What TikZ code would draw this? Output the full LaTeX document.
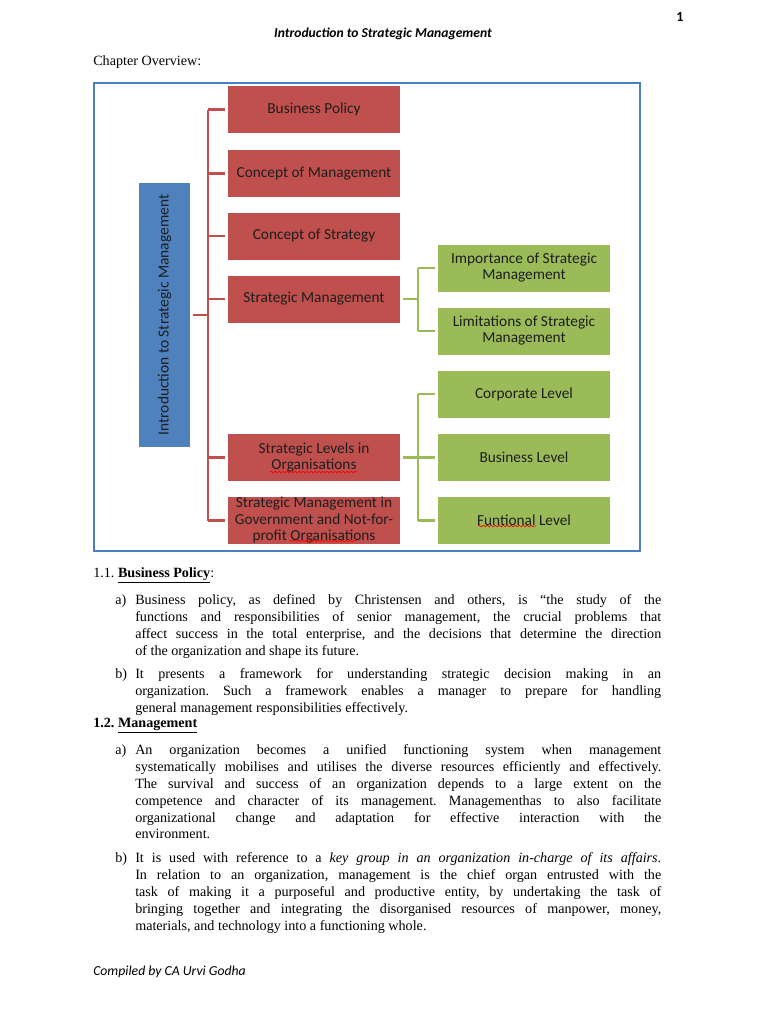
\documentclass[tikz,border=0pt]{standalone}
\usepackage{fontspec}
\setmainfont{Liberation Serif}
\newfontfamily\calfont{Carlito}
\usetikzlibrary{decorations.pathmorphing}
\definecolor{redbox}{HTML}{C0504D}
\definecolor{greenbox}{HTML}{9BBB59}
\definecolor{bluebox}{HTML}{4F81BD}
\definecolor{framecol}{HTML}{4A7EC8}
\definecolor{boxtext}{HTML}{1E1E1E}
\frenchspacing
\newcommand\jline[2]{\node[bodytext] at (135,#1) {\makebox[394.5pt][s]{#2}};}
\newcommand\pline[2]{\node[bodytext] at (135,#1) {#2};}
\begin{document}
\begin{tikzpicture}[x=0.75pt,y=-0.75pt,
  rbox/.style={fill=redbox,inner sep=0pt,minimum width=129pt,minimum height=35.25pt,align=center,
    font=\calfont\fontsize{11.5}{12}\selectfont,text=boxtext},
  gbox/.style={rbox,fill=greenbox},
  rln/.style={draw=redbox,line width=1.6pt},
  gln/.style={draw=greenbox,line width=1.6pt},
  bodytext/.style={inner sep=0pt,anchor=base west,font=\frenchspacing\fontsize{10.6}{12.75}\selectfont},
  spell/.style={draw=red,line width=0.5pt,decorate,decoration={snake,amplitude=0.6pt,segment length=3pt}}
]
\useasboundingbox (0,0) rectangle (768,1024);
\fill[white] (0,0) rectangle (768,1024);

% header
\node[inner sep=0pt,font=\calfont\bfseries\fontsize{10.5}{12}\selectfont] (pg) at (680,17) {1};
\node[inner sep=0pt,font=\calfont\bfseries\itshape\fontsize{10.2}{12}\selectfont] (title) at (383,34) {Introduction to Strategic Management};
\node[bodytext] (co) at (93,66) {Chapter Overview:};

% frame
\draw[framecol,line width=0.8pt] (94,83) rectangle (640,551);

% blue box
\node[fill=bluebox,inner sep=0pt,minimum width=198pt,minimum height=38.25pt,rotate=90,
  font=\calfont\fontsize{11.6}{12}\selectfont,text=boxtext] (root) at (164.5,315) {Introduction to Strategic Management};

% red boxes
\node[rbox] (b1) at (314,109.5) {Business Policy};
\node[rbox] (b2) at (314,173.5) {Concept of Management};
\node[rbox] (b3) at (314,236) {Concept of Strategy};
\node[rbox] (b4) at (314,299) {Strategic Management};
\node[rbox] (b5) at (314,457.5) {Strategic Levels in\\Organisations};
\node[rbox,font=\calfont\fontsize{11.5}{12.4}\selectfont] (b6) at (314,520.5) {Strategic Management in\\Government and Not-for-\\profit Organisations};

% green boxes
\node[gbox] (g1) at (524,268) {Importance of Strategic\\Management};
\node[gbox] (g2) at (524,331) {Limitations of Strategic\\Management};
\node[gbox] (g3) at (524,394) {Corporate Level};
\node[gbox] (g4) at (524,457.5) {Business Level};
\node[gbox] (g5) at (524,520.5) {Funtional Level};

% red connectors
\coordinate (rt) at (208,0);
\draw[rln] ([xshift=2.25pt]root.south) -- (root.south -| rt);
\draw[rln] (b1.west -| rt) -- (b6.west -| rt);
\foreach \b in {b1,b2,b3,b4,b5,b6}{
  \draw[rln] ([xshift=-2.25pt]\b.west) -- (\b.west -| rt);
}

% green connectors
\coordinate (gt) at (418,0);
\draw[gln] ([xshift=2.25pt]b4.east) -- (b4.east -| gt);
\draw[gln] (g1.west -| gt) -- (g2.west -| gt);
\draw[gln] ([xshift=2.25pt]b5.east) -- (b5.east -| gt);
\draw[gln] (g3.west -| gt) -- (g5.west -| gt);
\foreach \g in {g1,g2,g3,g4,g5}{
  \draw[gln] ([xshift=-2.25pt]\g.west) -- (\g.west -| gt);
}

% spell-check marks
\draw[spell] (270,472) -- (357,472);
\draw[spell] (289,541) -- (357,541);
\draw[spell] (478,526) -- (536,526);

% section 1.1
\node[bodytext] (h1) at (93,577) {1.1.\ \textbf{\underline{Business Policy}}:};
\node[bodytext] (la1) at (115,604) {a)};
\jline{604}{Business policy, as defined by Christensen and others, is “the study of the}
\jline{621}{functions and responsibilities of senior management, the crucial problems that}
\jline{638}{affect success in the total enterprise, and the decisions that determine the direction}
\pline{655}{of the organization and shape its future.}
\node[bodytext] (lb1) at (115,678) {b)};
\jline{678}{It presents a framework for understanding strategic decision making in an}
\jline{695}{organization. Such a framework enables a manager to prepare for handling}
\pline{712}{general management responsibilities effectively.}

% section 1.2
\node[bodytext] (h2) at (93,727) {\textbf{1.2.\ \underline{Management}}};
\node[bodytext] (la2) at (115,754) {a)};
\jline{754}{An organization becomes a unified functioning system when management}
\jline{771}{systematically mobilises and utilises the diverse resources efficiently and effectively.}
\jline{788}{The survival and success of an organization depends to a large extent on the}
\jline{805}{competence and character of its management. Managementhas to also facilitate}
\jline{822}{organizational change and adaptation for effective interaction with the}
\pline{838}{environment.}
\node[bodytext] (lb2) at (115,862) {b)};
\jline{862}{It is used with reference to a \textit{key group in an organization in-charge of its affairs}.}
\jline{879}{In relation to an organization, management is the chief organ entrusted with the}
\jline{896}{task of making it a purposeful and productive entity, by undertaking the task of}
\jline{913}{bringing together and integrating the disorganised resources of manpower, money,}
\pline{930}{materials, and technology into a functioning whole.}

% footer
\node[inner sep=0pt,anchor=base west,font=\calfont\itshape\fontsize{10.3}{12}\selectfont] (foot) at (93,975) {Compiled by CA Urvi Godha};
\end{tikzpicture}
\end{document}
